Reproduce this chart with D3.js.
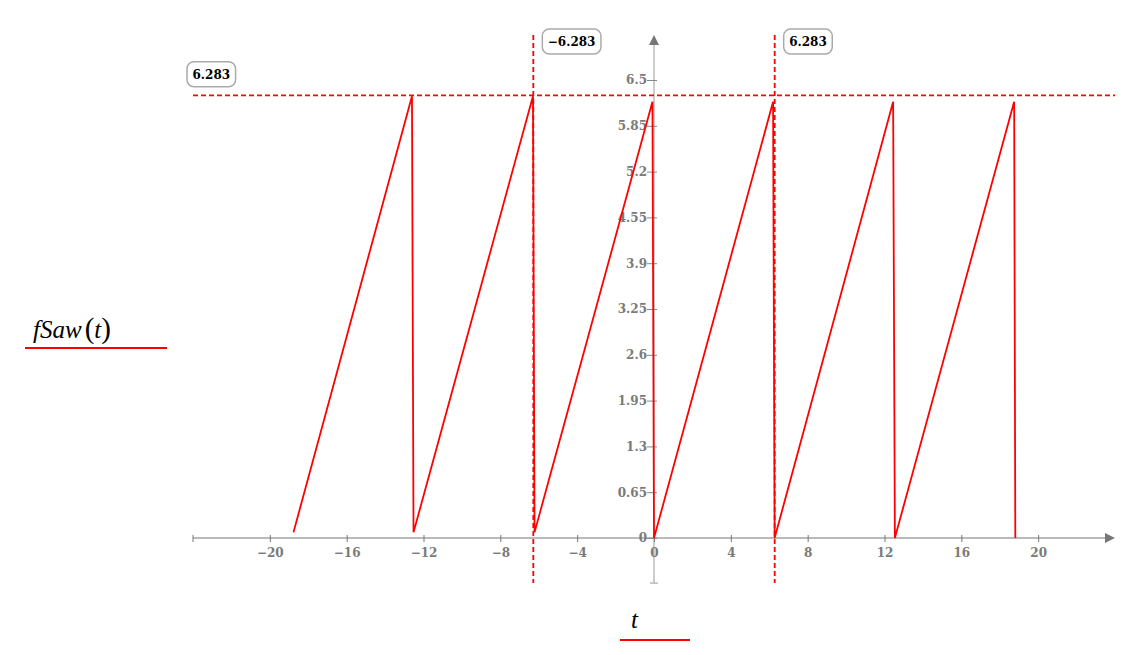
<!DOCTYPE html>
<html>
<head>
<meta charset="utf-8">
<script src="https://cdn.jsdelivr.net/npm/d3@7"></script>
<style>
  body { margin: 0; background: #fff; }
  svg { display: block; }
  .tick text { font-family: "DejaVu Serif", serif; font-weight: bold; font-size: 12px; fill: #7a7a7a; }
  .mark text { font-family: "DejaVu Serif", serif; font-weight: bold; font-size: 12px; fill: #000; }
</style>
</head>
<body>
<div id="chart"></div>
<script>
// sawtooth vertices (t, fSaw(t))
var sawT = [-18.77, -12.60, -12.52, -6.30, -6.22, -0.08, 0, 6.20, 6.28, 12.45, 12.54, 18.75, 18.81];
var sawV = [0.08, 6.27, 0.08, 6.27, 0.08, 6.19, 0, 6.19, 0, 6.19, 0, 6.19, 0];

var xTicks = [-20, -16, -12, -8, -4, 0, 4, 8, 12, 16, 20];
var yTicks = [0, 0.65, 1.3, 1.95, 2.6, 3.25, 3.9, 4.55, 5.2, 5.85, 6.5];

var markX = [-6.283, 6.283];
var markY = [6.283];

var width = 1134, height = 655;

var x = d3.scaleLinear().domain([-24, 24]).range([193, 1115]);
var y = d3.scaleLinear().domain([0, 6.5]).range([538, 80]);

var svg = d3.select("#chart").append("svg").attr("width", width).attr("height", height);

function minus(d) { return d < 0 ? "\u2212" + Math.abs(d) : String(d); }

// y axis line (light grey)
var yTop = y(7.14), yBot = y(-0.64);
svg.append("line").attr("x1", x(0)).attr("x2", x(0)).attr("y1", yTop + 8).attr("y2", yBot)
    .attr("stroke", "#aaa").attr("stroke-width", 1.2);
svg.append("line").attr("x1", x(0) - 4).attr("x2", x(0) + 4).attr("y1", yBot).attr("y2", yBot)
    .attr("stroke", "#aaa").attr("stroke-width", 1.2);
svg.append("path").attr("d", "M" + x(0) + "," + yTop + " l-5,10 l10,0 z").attr("fill", "#777");

// x axis
var xAxis = d3.axisBottom(x).tickValues(xTicks).tickSize(0).tickPadding(10).tickFormat(minus);
var gx = svg.append("g").attr("transform", "translate(0," + y(0) + ")").call(xAxis);
gx.select(".domain").remove();
gx.selectAll(".tick line").attr("y1", -3).attr("y2", 4).attr("stroke", "#777");
gx.append("line").attr("x1", x(-24)).attr("x2", x(24) - 8).attr("stroke", "#777").attr("stroke-width", 1.2);
gx.append("line").attr("x1", x(-24)).attr("x2", x(-24)).attr("y1", -3).attr("y2", 4).attr("stroke", "#777");
gx.append("path").attr("d", "M" + x(24) + ",0 l-10,-5 l0,10 z").attr("fill", "#777");

// y axis ticks
var yAxis = d3.axisLeft(y).tickValues(yTicks).tickSize(0).tickPadding(7).tickFormat(minus);
var gy = svg.append("g").attr("transform", "translate(" + x(0) + ",0)").call(yAxis);
gy.select(".domain").remove();
gy.selectAll(".tick line").attr("x1", -7).attr("x2", 3).attr("stroke", "#888");

// dashed marker lines
svg.selectAll(".vmark").data(markX).enter().append("line")
    .attr("x1", function (d) { return x(d); }).attr("x2", function (d) { return x(d); })
    .attr("y1", yTop).attr("y2", yBot)
    .attr("stroke", "red").attr("stroke-width", 1.8).attr("stroke-dasharray", "5,3");
svg.selectAll(".hmark").data(markY).enter().append("line")
    .attr("x1", x(-24)).attr("x2", x(24))
    .attr("y1", function (d) { return y(d); }).attr("y2", function (d) { return y(d); })
    .attr("stroke", "red").attr("stroke-width", 1.8).attr("stroke-dasharray", "5,3");

// sawtooth
var line = d3.line()
    .x(function (d, i) { return x(sawT[i]); })
    .y(function (d, i) { return y(sawV[i]); });
svg.append("path").attr("d", line(sawV)).attr("fill", "none").attr("stroke", "red").attr("stroke-width", 1.8);

// marker labels
function label(left, cy, txt) {
    var g = svg.append("g").attr("class", "mark");
    var t = g.append("text").attr("y", cy + 4.5).attr("text-anchor", "middle").text(txt);
    var w = t.node().getComputedTextLength() + 11;
    t.attr("x", left + w / 2);
    g.insert("rect", "text").attr("x", left).attr("y", cy - 12.5).attr("width", w).attr("height", 25)
        .attr("rx", 7).attr("fill", "#fff").attr("stroke", "#aaa").attr("stroke-width", 1.5);
}
markX.forEach(function (d) {
    label(x(d) + 9, 41.5, minus(d.toFixed(3)));
});
markY.forEach(function (d) {
    label(187, y(d) - 21, d.toFixed(3));
});

// axis titles
var yl = svg.append("text").attr("x", 33).attr("y", 338)
    .attr("font-family", "Liberation Serif, serif").attr("font-size", 25);
yl.append("tspan").attr("font-style", "italic").text("fSaw");
yl.append("tspan").attr("font-size", 29).attr("dx", 3).text("(");
yl.append("tspan").attr("font-style", "italic").text("t");
yl.append("tspan").attr("font-size", 29).text(")");
svg.append("line").attr("x1", 25).attr("x2", 167).attr("y1", 348).attr("y2", 348)
    .attr("stroke", "red").attr("stroke-width", 2);

svg.append("text").attr("x", 631).attr("y", 628)
    .attr("font-family", "Liberation Serif, serif").attr("font-size", 25).attr("font-style", "italic").text("t");
svg.append("line").attr("x1", 620).attr("x2", 690).attr("y1", 640).attr("y2", 640)
    .attr("stroke", "red").attr("stroke-width", 2);
</script>
</body>
</html>
